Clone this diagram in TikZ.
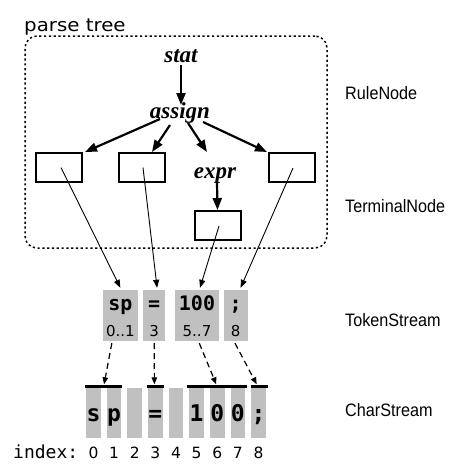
\documentclass[tikz,border=0pt]{standalone}
\usepackage{fontspec}
\setmainfont{Liberation Serif}
\newfontfamily\treefont{Liberation Serif}
\newfontfamily\monofont{DejaVu Sans Mono}
\newfontfamily\dvsans{DejaVu Sans}
\newfontfamily\titlefont[FakeStretch=1.1]{DejaVu Sans}
\newfontfamily\lblfont[FakeStretch=0.9]{Liberation Sans}
\usetikzlibrary{arrows.meta,calc}
\definecolor{cellgray}{RGB}{192,192,192}
\tikzset{
  rulenode/.style={font=\treefont\bfseries\itshape\fontsize{23}{27}\selectfont, inner sep=0pt, anchor=base},
  tbox/.style={draw, line width=2pt, minimum width=46pt, minimum height=29pt, inner sep=0pt},
  treearr/.style={line width=2.2pt, -{Triangle[length=12pt,width=9pt]}},
  thinarr/.style={line width=0.9pt, -{Triangle[length=8pt,width=6pt]}},
  dasharr/.style={line width=1.2pt, dash pattern=on 6pt off 4pt, -{Triangle[length=7pt,width=5.5pt]}},
  bar/.style={line width=2.5pt},
  frame/.style={draw, line width=1.5pt, dash pattern=on 2.2pt off 2.6pt, rounded corners=12pt, inner sep=0pt},
  tok/.style={fill=cellgray, minimum height=51pt, inner sep=0pt},
  toktxt/.style={font=\monofont\bfseries\fontsize{20}{24}\selectfont, inner sep=0pt, anchor=base},
  subtxt/.style={font=\dvsans\fontsize{15}{18}\selectfont, inner sep=0pt, anchor=base},
  cell/.style={fill=cellgray, minimum width=14.7pt, inner sep=0pt, text height=33.7pt, text depth=16.3pt, anchor=base, font=\monofont\bfseries\fontsize{23}{27}\selectfont},
  digit/.style={font=\dvsans\fontsize{15.5}{18}\selectfont, inner sep=0pt, anchor=base},
  lbl/.style={font=\lblfont\fontsize{18}{22}\selectfont, inner sep=0pt, anchor=base west},
}
\begin{document}
\begin{tikzpicture}[x=1pt,y=-1pt]
\useasboundingbox (0,0) rectangle (461,475);
% title and frame
\node[font=\titlefont\fontsize{18}{22}\selectfont, inner sep=0pt, anchor=base west] (title) at (24,31.7) {parse tree};
\node[frame, minimum width=302pt, minimum height=212pt] (frame) at (176,142) {};
% tree nodes
\node[rulenode] (stat) at (181,62) {stat};
\node[rulenode] (assign) at (180,118) {assign};
\node[rulenode] (expr) at (215,178) {expr};
\node[tbox] (b1) at (59,167.5) {};
\node[tbox] (b2) at (142,167.5) {};
\node[tbox] (b3) at (217.5,225.5) {};
\node[tbox] (b4) at (292,167.5) {};
% tree arrows
\draw[treearr] ($(stat.base)+(0,3)$) -- ($(assign.base)+(1,-13)$);
\draw[treearr] ($(assign.base)+(-20,1)$) -- ($(b1.north east)+(2,0)$);
\draw[treearr] ($(assign.base)+(-10,7)$) -- ($(b2.north)+(10,0)$);
\draw[treearr] ($(assign.base)+(8,5)$) -- ($(expr.base)+(-8,-26)$);
\draw[treearr] ($(assign.base)+(23,4)$) -- ($(b4.north west)+(-1,0)$);
\draw[treearr] ($(expr.base)+(2,4)$) -- (b3.north);
% token stream
\node[tok, minimum width=35.3pt] (t1) at (120.35,315.5) {};
\node[tok, minimum width=21.8pt] (t2) at (154.1,315.5) {};
\node[tok, minimum width=44pt] (t3) at (197,315.5) {};
\node[tok, minimum width=24.2pt] (t4) at (235.6,315.5) {};
\node[toktxt] (t1a) at ($(t1.north)+(0,20.5)$) {sp};
\node[toktxt] (t2a) at ($(t2.north)+(0,20.5)$) {=};
\node[toktxt] (t3a) at ($(t3.north)+(0,20.5)$) {100};
\node[toktxt] (t4a) at ($(t4.north)+(0,20.5)$) {;};
\node[subtxt] (t1b) at ($(t1.north)+(0,46.5)$) {0..1};
\node[subtxt] (t2b) at ($(t2.north)+(0,46.5)$) {3};
\node[subtxt] (t3b) at ($(t3.north)+(0,46.5)$) {5..7};
\node[subtxt] (t4b) at ($(t4.north)+(0,46.5)$) {8};
% thin arrows tree -> tokens
\draw[thinarr] ($(b1.center)+(2,0)$) -- ($(t1.north)+(0,-2)$);
\draw[thinarr] ($(b2.center)+(1,0)$) -- ($(t2.north)+(3,-2)$);
\draw[thinarr] ($(b3.center)+(1.5,0.5)$) -- ($(t3.north)+(3,-2)$);
\draw[thinarr] ($(b4.center)+(1,0.5)$) -- ($(t4.north)+(5,-2)$);
% char stream
\node[cell] (c0) at (93.5,421.7) {s};
\node[cell] (c1) at (114.125,421.7) {p};
\node[cell] (c2) at (134.75,421.7) {};
\node[cell] (c3) at (155.375,421.7) {=};
\node[cell] (c4) at (176,421.7) {};
\node[cell] (c5) at (196.625,421.7) {1};
\node[cell] (c6) at (217.25,421.7) {0};
\node[cell] (c7) at (237.875,421.7) {0};
\node[cell] (c8) at (258.5,421.7) {;};
% bars
\draw[bar] ([xshift=-1.2pt,yshift=1.5pt]c0.north west) -- ([xshift=0.5pt,yshift=1.5pt]c1.north east);
\draw[bar] ([xshift=-1pt,yshift=1.5pt]c3.north west) -- ([xshift=1pt,yshift=1.5pt]c3.north east);
\draw[bar] ([xshift=-2pt,yshift=1.5pt]c5.north west) -- ([xshift=1.5pt,yshift=1.5pt]c7.north east);
\draw[bar] ([xshift=0pt,yshift=1.5pt]c8.north west) -- ([xshift=2.3pt,yshift=1.5pt]c8.north east);
% dashed arrows tokens -> chars
\draw[dasharr] ($(t1.south)+(-8.5,2)$) -- ($(c0.north east)+(3,-3.5)$);
\draw[dasharr] ($(t2.south)+(0.2,2)$) -- ($(c3.north)+(-1,-3.5)$);
\draw[dasharr] ($(t3.south)+(2.3,2)$) -- ($(c6.north)+(-1,-3.5)$);
\draw[dasharr] ($(t4.south)+(-0.6,2)$) -- ($(c8.north)+(-1.8,-3.5)$);
% index row
\node[font=\monofont\fontsize{18}{22}\selectfont, inner sep=0pt, anchor=base west] (idx) at (13,458) {index:};
\node[digit] (d0) at (c0|-idx.base) {0};
\node[digit] (d1) at (c1|-idx.base) {1};
\node[digit] (d2) at (c2|-idx.base) {2};
\node[digit] (d3) at (c3|-idx.base) {3};
\node[digit] (d4) at (c4|-idx.base) {4};
\node[digit] (d5) at (c5|-idx.base) {5};
\node[digit] (d6) at (c6|-idx.base) {6};
\node[digit] (d7) at (c7|-idx.base) {7};
\node[digit] (d8) at (c8|-idx.base) {8};
% right labels
\node[lbl] (lrule) at (345,99.3) {RuleNode};
\node[lbl] (lterm) at (345,212.7) {TerminalNode};
\node[lbl] (ltok) at (345,326) {TokenStream};
\node[lbl] (lchar) at (345,416.7) {CharStream};
\end{tikzpicture}
\end{document}
